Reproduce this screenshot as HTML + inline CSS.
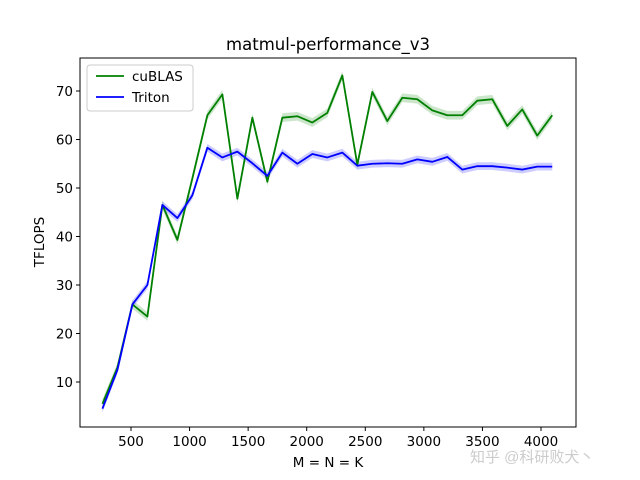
<!DOCTYPE html>
<html><head><meta charset="utf-8"><style>
body{margin:0;background:#fff;}
svg{display:block;font-family:"DejaVu Sans","Liberation Sans",sans-serif;}
</style></head><body>
<svg id="s" width="640" height="480" viewBox="0 0 640 480" xmlns="http://www.w3.org/2000/svg">
<rect width="640" height="480" fill="#fff"/>
<text x="328" y="50" font-size="16.5" text-anchor="middle">matmul-performance_v3</text>
<g id="plot"></g>
<rect x="80" y="58" width="496" height="369" fill="none" stroke="#000" stroke-width="1"/>
<g id="ticks" font-size="13.5"></g>
<text x="328" y="467" font-size="13.5" text-anchor="middle">M = N = K</text>
<text transform="translate(44,242) rotate(-90)" font-size="13.5" text-anchor="middle">TFLOPS</text>
<rect x="87" y="65" width="106" height="46" rx="3" fill="#fff" fill-opacity="0.8" stroke="#ccc"/>
<line x1="96" y1="76" x2="124" y2="76" stroke="#008000" stroke-width="1.8"/>
<text x="132" y="81" font-size="13.5">cuBLAS</text>
<line x1="96" y1="97" x2="124" y2="97" stroke="#0000ff" stroke-width="1.8"/>
<text x="132" y="102" font-size="13.5">Triton</text>
<text x="470" y="462" font-size="15" fill="#ccc" font-family="'Liberation Sans','Noto Sans CJK SC',sans-serif">知乎 @科研败犬丶</text>
</svg>
<script>
var cu=[5.5,13,26,23.5,46.5,39.3,52,65,69.3,47.8,64.5,51.3,64.5,64.8,63.5,65.5,73.2,54.8,69.8,63.8,68.6,68.3,66,65,65,68,68.3,62.8,66.2,60.8,65];
var tr=[4.5,12.5,26,30,46.5,43.8,48.5,58.3,56.3,57.5,55.1,52.5,57.3,55,57,56.3,57.3,54.6,55,55.1,55,55.9,55.4,56.4,53.8,54.5,54.5,54.2,53.8,54.4,54.4];
function X(v){return 131+(v-500)*0.117143;}
function Y(v){return 382-(v-10)*4.85;}
var ns="http://www.w3.org/2000/svg",p=document.getElementById('plot'),t=document.getElementById('ticks');
function el(n,a,par){var e=document.createElementNS(ns,n);for(var k in a)e.setAttribute(k,a[k]);(par||p).appendChild(e);return e;}
function series(d,c,fc,b){
 var top=[],bot=[],line=[];
 for(var i=0;i<d.length;i++){var x=X(256+128*i);line.push(x+','+Y(d[i]));top.push(x+','+Y(d[i]+b));bot.unshift(x+','+Y(d[i]-b));}
 el('polygon',{points:top.concat(bot).join(' '),fill:fc,'fill-opacity':0.2,stroke:'none'});
 return line.join(' ');
}
var l1=series(cu,'#008000','#008000',0.9),l2=series(tr,'#0000ff','#0000ff',0.8);
el('polyline',{points:l1,fill:'none',stroke:'#008000','stroke-width':1.8,'stroke-linejoin':'round'});
el('polyline',{points:l2,fill:'none',stroke:'#0000ff','stroke-width':1.8,'stroke-linejoin':'round'});
[500,1000,1500,2000,2500,3000,3500,4000].forEach(function(v){var x=X(v);el('line',{x1:x,y1:427,x2:x,y2:431,stroke:'#000'},t);var e=el('text',{x:x,y:446,'text-anchor':'middle'},t);e.textContent=v;});
[10,20,30,40,50,60,70].forEach(function(v){var y=Y(v);el('line',{x1:76,y1:y,x2:80,y2:y,stroke:'#000'},t);var e=el('text',{x:73,y:y+5,'text-anchor':'end'},t);e.textContent=v;});
</script>
</body></html>
